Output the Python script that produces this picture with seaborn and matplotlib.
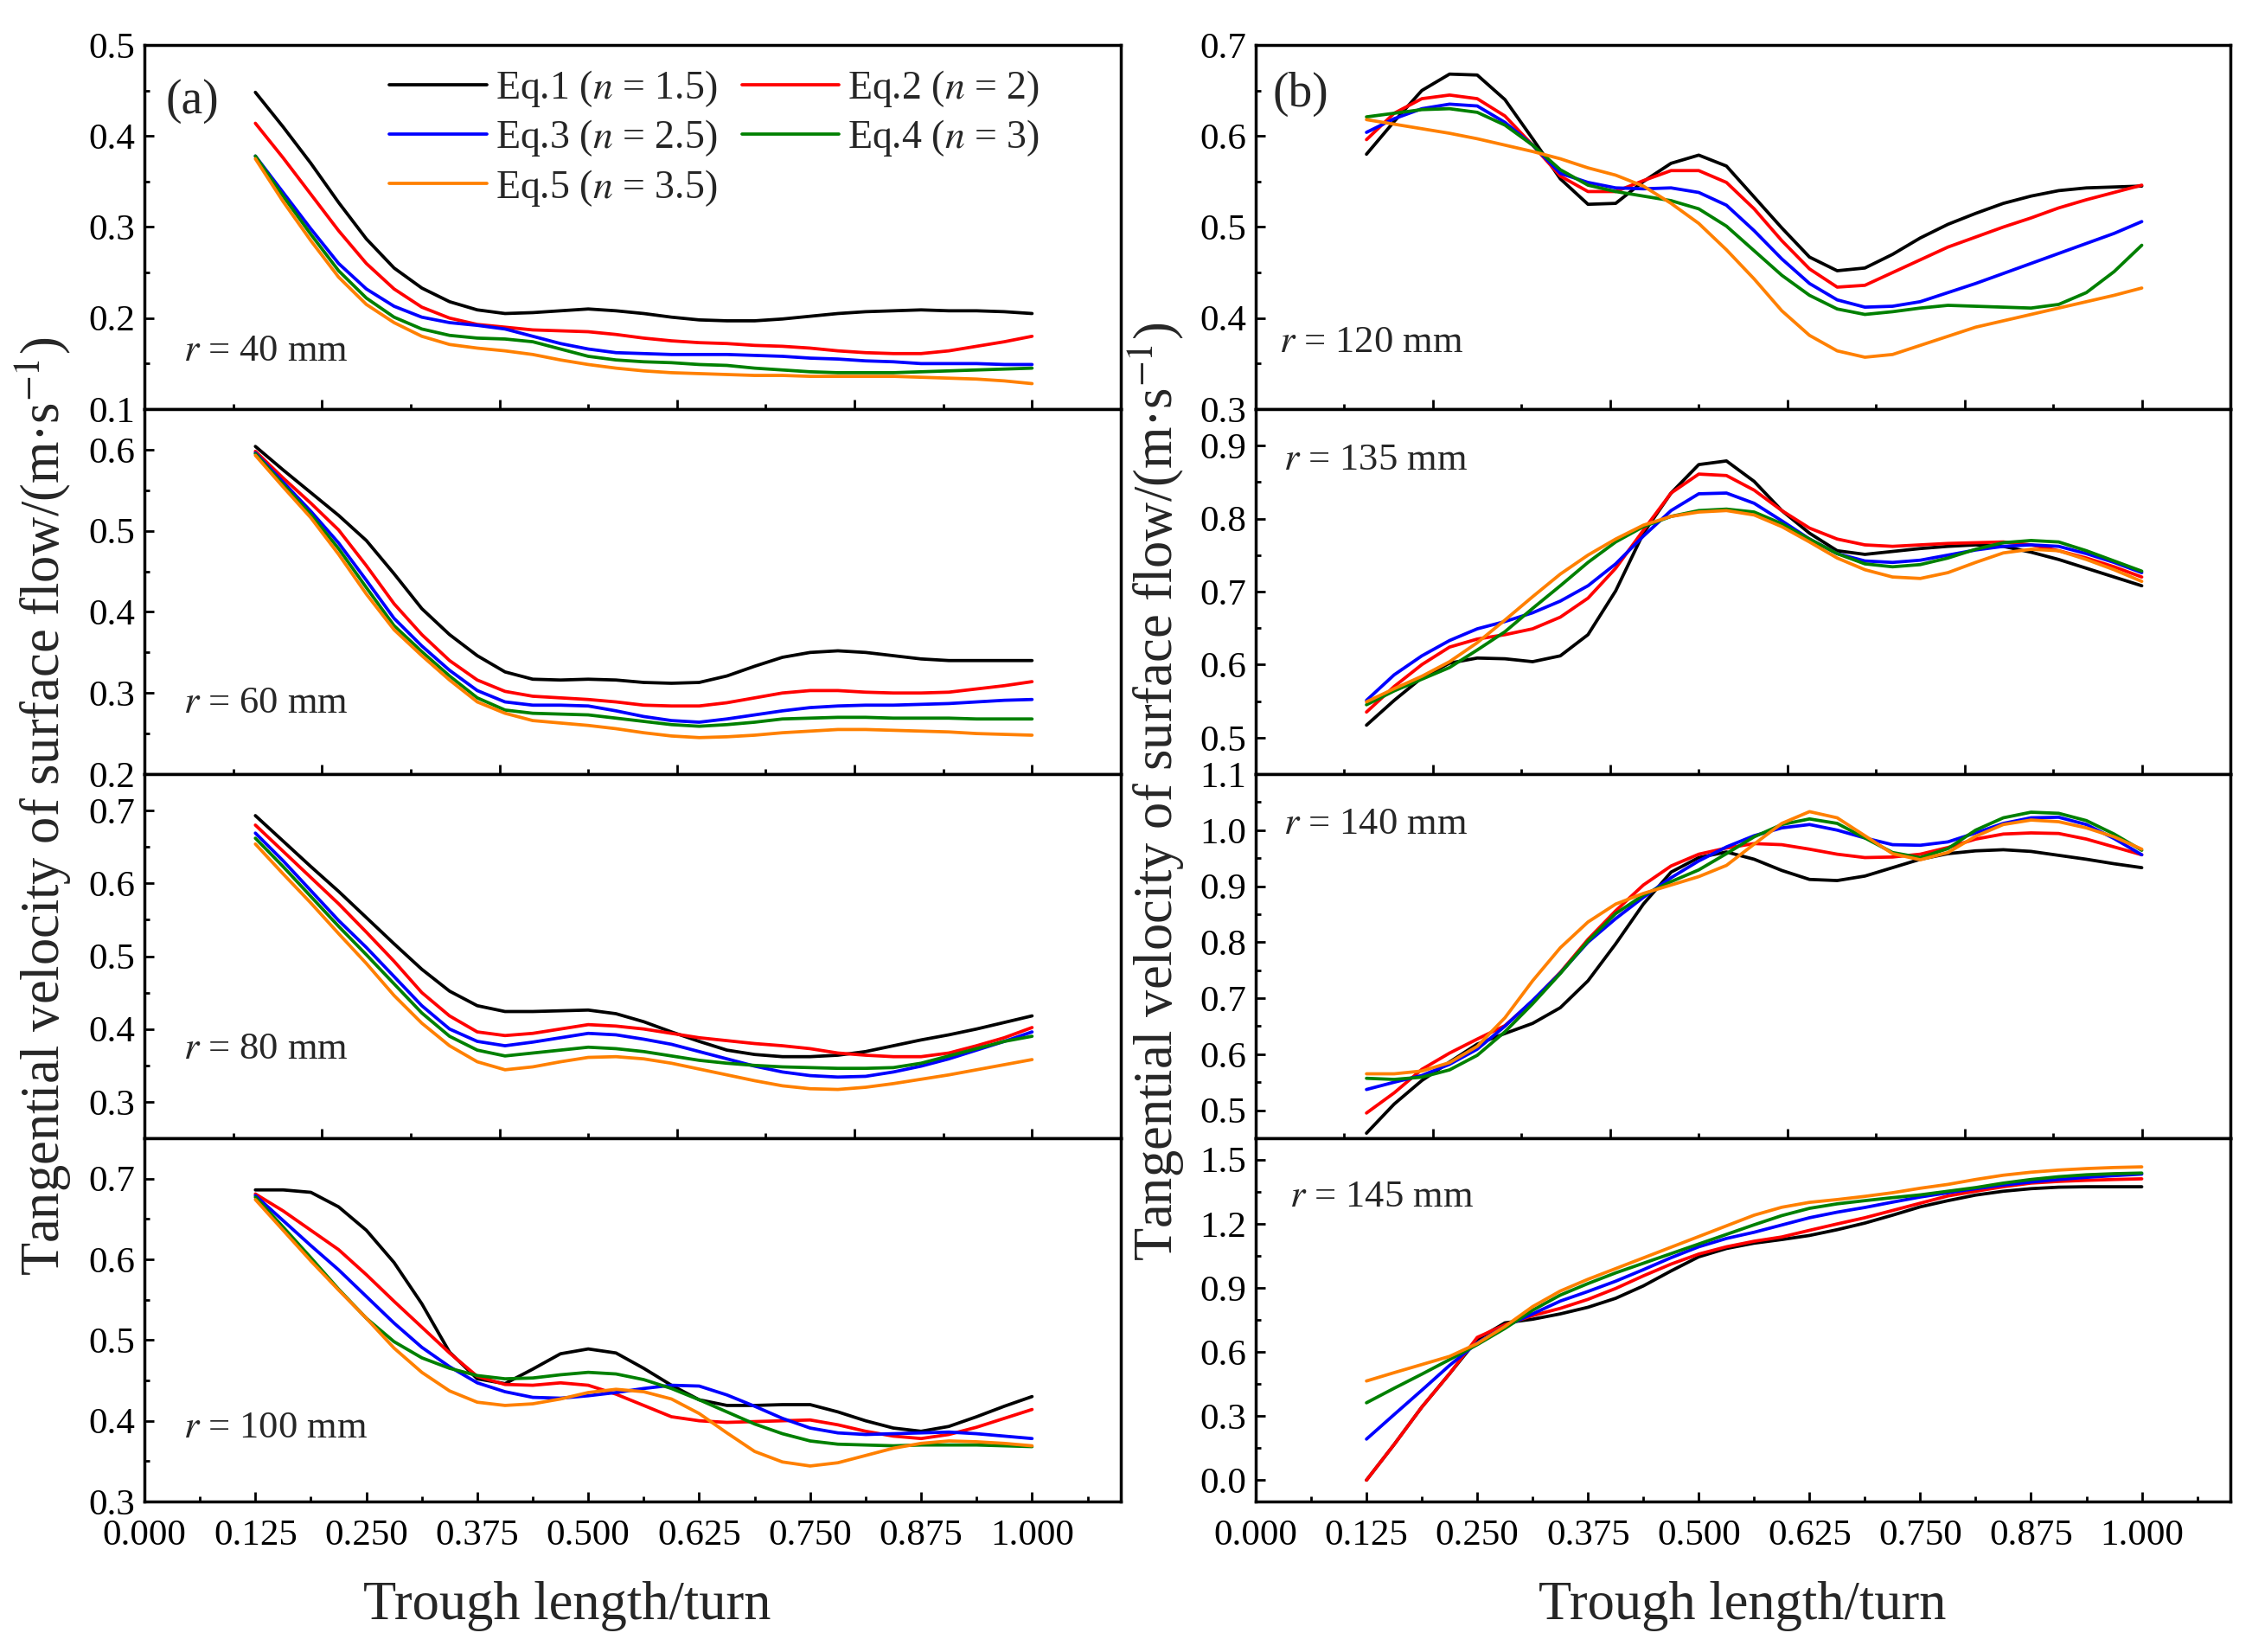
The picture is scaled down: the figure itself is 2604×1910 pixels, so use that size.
import matplotlib
matplotlib.use("Agg")
import matplotlib.pyplot as plt
import seaborn as sns
import pandas as pd
from matplotlib.lines import Line2D
from matplotlib.ticker import MultipleLocator, FormatStrFormatter

# ---------------- data ----------------
x_turn = [0.125, 0.15625, 0.1875, 0.21875, 0.25, 0.28125, 0.3125, 0.34375, 0.375, 0.40625,
          0.4375, 0.46875, 0.5, 0.53125, 0.5625, 0.59375, 0.625, 0.65625, 0.6875, 0.71875,
          0.75, 0.78125, 0.8125, 0.84375, 0.875, 0.90625, 0.9375, 0.96875, 1.0]

series_names = ["Eq.1", "Eq.2", "Eq.3", "Eq.4", "Eq.5"]
legend_labels = [r"Eq.1 ($n$ = 1.5)", r"Eq.2 ($n$ = 2)", r"Eq.3 ($n$ = 2.5)",
                 r"Eq.4 ($n$ = 3)", r"Eq.5 ($n$ = 3.5)"]
series_colors = ["#000000", "#FF0000", "#0000FF", "#008000", "#FF8000"]

# r = 40 mm
r40_eq1 = [0.448, 0.410, 0.370, 0.327, 0.287, 0.255, 0.233, 0.218, 0.209, 0.205, 0.206, 0.208, 0.210, 0.208, 0.205, 0.201, 0.198, 0.197, 0.197, 0.199, 0.202, 0.205, 0.207, 0.208, 0.209, 0.208, 0.208, 0.207, 0.205]
r40_eq2 = [0.414, 0.376, 0.336, 0.296, 0.260, 0.232, 0.212, 0.200, 0.193, 0.190, 0.187, 0.186, 0.185, 0.182, 0.178, 0.175, 0.173, 0.172, 0.170, 0.169, 0.167, 0.164, 0.162, 0.161, 0.161, 0.164, 0.169, 0.174, 0.180]
r40_eq3 = [0.378, 0.338, 0.298, 0.260, 0.232, 0.213, 0.201, 0.195, 0.192, 0.188, 0.180, 0.172, 0.166, 0.162, 0.161, 0.160, 0.160, 0.160, 0.159, 0.158, 0.156, 0.155, 0.153, 0.152, 0.150, 0.150, 0.150, 0.149, 0.149]
r40_eq4 = [0.378, 0.334, 0.292, 0.252, 0.222, 0.201, 0.188, 0.181, 0.178, 0.177, 0.174, 0.166, 0.158, 0.154, 0.152, 0.151, 0.149, 0.148, 0.145, 0.143, 0.141, 0.140, 0.140, 0.140, 0.141, 0.142, 0.143, 0.144, 0.145]
r40_eq5 = [0.375, 0.328, 0.285, 0.245, 0.215, 0.195, 0.180, 0.171, 0.167, 0.164, 0.160, 0.154, 0.149, 0.145, 0.142, 0.140, 0.139, 0.138, 0.137, 0.137, 0.136, 0.136, 0.136, 0.136, 0.135, 0.134, 0.133, 0.131, 0.128]

# r = 60 mm
r60_eq1 = [0.604, 0.575, 0.547, 0.519, 0.488, 0.447, 0.404, 0.372, 0.346, 0.326, 0.317, 0.316, 0.317, 0.316, 0.313, 0.312, 0.313, 0.321, 0.333, 0.344, 0.350, 0.352, 0.350, 0.346, 0.342, 0.340, 0.340, 0.340, 0.340]
r60_eq2 = [0.598, 0.565, 0.534, 0.501, 0.457, 0.410, 0.372, 0.340, 0.316, 0.302, 0.296, 0.294, 0.292, 0.289, 0.285, 0.284, 0.284, 0.288, 0.294, 0.300, 0.303, 0.303, 0.301, 0.300, 0.300, 0.301, 0.305, 0.309, 0.314]
r60_eq3 = [0.596, 0.560, 0.524, 0.485, 0.439, 0.392, 0.358, 0.328, 0.303, 0.289, 0.285, 0.285, 0.284, 0.278, 0.271, 0.266, 0.264, 0.268, 0.273, 0.278, 0.282, 0.284, 0.285, 0.285, 0.286, 0.287, 0.289, 0.291, 0.292]
r60_eq4 = [0.595, 0.557, 0.520, 0.478, 0.430, 0.383, 0.351, 0.321, 0.294, 0.279, 0.275, 0.274, 0.273, 0.269, 0.265, 0.261, 0.259, 0.261, 0.264, 0.268, 0.269, 0.270, 0.270, 0.269, 0.269, 0.269, 0.268, 0.268, 0.268]
r60_eq5 = [0.593, 0.554, 0.516, 0.471, 0.422, 0.378, 0.346, 0.316, 0.289, 0.275, 0.266, 0.263, 0.260, 0.256, 0.251, 0.247, 0.245, 0.246, 0.248, 0.251, 0.253, 0.255, 0.255, 0.254, 0.253, 0.252, 0.250, 0.249, 0.248]

# r = 80 mm
r80_eq1 = [0.693, 0.658, 0.623, 0.589, 0.553, 0.517, 0.482, 0.452, 0.432, 0.424, 0.424, 0.425, 0.426, 0.421, 0.410, 0.396, 0.383, 0.371, 0.365, 0.362, 0.362, 0.364, 0.369, 0.377, 0.385, 0.392, 0.400, 0.409, 0.418]
r80_eq2 = [0.680, 0.644, 0.608, 0.572, 0.533, 0.493, 0.450, 0.418, 0.396, 0.391, 0.394, 0.400, 0.406, 0.404, 0.400, 0.394, 0.388, 0.384, 0.380, 0.377, 0.373, 0.367, 0.364, 0.362, 0.362, 0.367, 0.377, 0.388, 0.402]
r80_eq3 = [0.669, 0.631, 0.590, 0.549, 0.512, 0.472, 0.432, 0.400, 0.383, 0.377, 0.382, 0.388, 0.394, 0.392, 0.386, 0.379, 0.369, 0.359, 0.349, 0.341, 0.336, 0.334, 0.335, 0.341, 0.349, 0.359, 0.371, 0.383, 0.396]
r80_eq4 = [0.662, 0.623, 0.582, 0.541, 0.502, 0.462, 0.422, 0.390, 0.371, 0.363, 0.367, 0.371, 0.375, 0.373, 0.369, 0.363, 0.357, 0.353, 0.350, 0.348, 0.347, 0.346, 0.346, 0.347, 0.353, 0.363, 0.373, 0.383, 0.390]
r80_eq5 = [0.654, 0.613, 0.573, 0.531, 0.490, 0.446, 0.408, 0.377, 0.355, 0.344, 0.348, 0.355, 0.361, 0.362, 0.359, 0.353, 0.345, 0.337, 0.329, 0.322, 0.318, 0.317, 0.320, 0.325, 0.331, 0.337, 0.344, 0.351, 0.358]

# r = 100 mm
r100_eq1 = [0.686, 0.686, 0.683, 0.665, 0.636, 0.596, 0.545, 0.485, 0.452, 0.446, 0.464, 0.483, 0.489, 0.484, 0.465, 0.444, 0.426, 0.419, 0.419, 0.420, 0.420, 0.411, 0.400, 0.391, 0.387, 0.393, 0.405, 0.418, 0.430]
r100_eq2 = [0.681, 0.660, 0.636, 0.612, 0.581, 0.548, 0.516, 0.484, 0.455, 0.445, 0.444, 0.447, 0.444, 0.433, 0.419, 0.405, 0.400, 0.398, 0.399, 0.400, 0.401, 0.395, 0.387, 0.381, 0.378, 0.383, 0.392, 0.403, 0.414]
r100_eq3 = [0.679, 0.648, 0.617, 0.587, 0.554, 0.521, 0.491, 0.467, 0.447, 0.436, 0.429, 0.428, 0.431, 0.435, 0.440, 0.444, 0.443, 0.432, 0.418, 0.403, 0.391, 0.385, 0.383, 0.384, 0.385, 0.386, 0.384, 0.381, 0.378]
r100_eq4 = [0.677, 0.640, 0.602, 0.563, 0.527, 0.498, 0.478, 0.465, 0.456, 0.452, 0.453, 0.457, 0.460, 0.458, 0.451, 0.440, 0.426, 0.411, 0.396, 0.384, 0.375, 0.371, 0.370, 0.369, 0.370, 0.370, 0.370, 0.369, 0.368]
r100_eq5 = [0.674, 0.636, 0.598, 0.562, 0.527, 0.490, 0.460, 0.437, 0.423, 0.419, 0.421, 0.427, 0.435, 0.439, 0.436, 0.427, 0.409, 0.385, 0.362, 0.349, 0.344, 0.348, 0.357, 0.366, 0.372, 0.375, 0.374, 0.372, 0.369]

# r = 120 mm
r120_eq1 = [0.580, 0.616, 0.650, 0.668, 0.667, 0.640, 0.597, 0.553, 0.525, 0.526, 0.550, 0.570, 0.579, 0.567, 0.533, 0.499, 0.467, 0.452, 0.455, 0.470, 0.488, 0.503, 0.515, 0.526, 0.534, 0.540, 0.543, 0.544, 0.545]
r120_eq2 = [0.596, 0.625, 0.641, 0.645, 0.641, 0.622, 0.590, 0.556, 0.539, 0.539, 0.551, 0.562, 0.562, 0.549, 0.520, 0.485, 0.454, 0.434, 0.436, 0.450, 0.464, 0.478, 0.489, 0.500, 0.510, 0.521, 0.530, 0.538, 0.546]
r120_eq3 = [0.604, 0.619, 0.630, 0.635, 0.633, 0.615, 0.590, 0.559, 0.549, 0.543, 0.542, 0.543, 0.538, 0.524, 0.496, 0.465, 0.438, 0.420, 0.412, 0.413, 0.418, 0.428, 0.438, 0.449, 0.460, 0.471, 0.482, 0.493, 0.506]
r120_eq4 = [0.621, 0.625, 0.629, 0.630, 0.626, 0.612, 0.590, 0.563, 0.546, 0.539, 0.534, 0.529, 0.520, 0.501, 0.474, 0.447, 0.425, 0.410, 0.404, 0.407, 0.411, 0.414, 0.413, 0.412, 0.411, 0.415, 0.428, 0.451, 0.480]
r120_eq5 = [0.618, 0.613, 0.608, 0.603, 0.597, 0.590, 0.583, 0.575, 0.565, 0.557, 0.545, 0.526, 0.504, 0.475, 0.443, 0.408, 0.381, 0.364, 0.357, 0.360, 0.370, 0.380, 0.390, 0.397, 0.404, 0.411, 0.418, 0.425, 0.433]

# r = 135 mm
r135_eq1 = [0.517, 0.551, 0.582, 0.602, 0.609, 0.608, 0.604, 0.612, 0.641, 0.701, 0.780, 0.835, 0.874, 0.879, 0.851, 0.811, 0.780, 0.756, 0.751, 0.755, 0.759, 0.762, 0.764, 0.762, 0.754, 0.744, 0.732, 0.720, 0.708]
r135_eq2 = [0.535, 0.570, 0.600, 0.624, 0.635, 0.641, 0.649, 0.665, 0.691, 0.732, 0.784, 0.835, 0.861, 0.859, 0.839, 0.811, 0.787, 0.772, 0.764, 0.762, 0.764, 0.766, 0.767, 0.768, 0.764, 0.756, 0.746, 0.734, 0.720]
r135_eq3 = [0.551, 0.586, 0.612, 0.633, 0.649, 0.659, 0.671, 0.687, 0.708, 0.738, 0.776, 0.811, 0.834, 0.835, 0.821, 0.797, 0.772, 0.752, 0.742, 0.740, 0.743, 0.750, 0.757, 0.762, 0.764, 0.762, 0.752, 0.740, 0.726]
r135_eq4 = [0.545, 0.564, 0.580, 0.596, 0.620, 0.645, 0.677, 0.708, 0.740, 0.768, 0.789, 0.803, 0.811, 0.813, 0.809, 0.793, 0.772, 0.752, 0.738, 0.734, 0.737, 0.746, 0.758, 0.767, 0.770, 0.768, 0.756, 0.742, 0.728]
r135_eq5 = [0.549, 0.567, 0.584, 0.604, 0.630, 0.661, 0.693, 0.724, 0.750, 0.772, 0.791, 0.803, 0.809, 0.811, 0.805, 0.789, 0.768, 0.746, 0.730, 0.720, 0.718, 0.726, 0.740, 0.753, 0.758, 0.756, 0.744, 0.730, 0.714]

# r = 140 mm
r140_eq1 = [0.459, 0.511, 0.553, 0.586, 0.618, 0.637, 0.655, 0.683, 0.731, 0.797, 0.868, 0.925, 0.951, 0.961, 0.948, 0.928, 0.912, 0.910, 0.918, 0.933, 0.948, 0.958, 0.963, 0.965, 0.962, 0.955, 0.948, 0.940, 0.933]
r140_eq2 = [0.495, 0.531, 0.573, 0.602, 0.627, 0.651, 0.695, 0.746, 0.805, 0.856, 0.902, 0.936, 0.957, 0.968, 0.976, 0.974, 0.966, 0.957, 0.951, 0.952, 0.957, 0.969, 0.984, 0.993, 0.995, 0.994, 0.984, 0.970, 0.956]
r140_eq3 = [0.537, 0.550, 0.562, 0.582, 0.609, 0.650, 0.696, 0.745, 0.800, 0.842, 0.880, 0.915, 0.945, 0.970, 0.990, 1.004, 1.010, 1.000, 0.986, 0.974, 0.973, 0.979, 0.995, 1.012, 1.022, 1.023, 1.010, 0.985, 0.956]
r140_eq4 = [0.557, 0.555, 0.559, 0.572, 0.598, 0.640, 0.690, 0.744, 0.802, 0.851, 0.884, 0.908, 0.929, 0.958, 0.988, 1.010, 1.020, 1.012, 0.986, 0.960, 0.951, 0.967, 1.000, 1.022, 1.032, 1.030, 1.017, 0.993, 0.964]
r140_eq5 = [0.565, 0.565, 0.570, 0.585, 0.614, 0.665, 0.731, 0.790, 0.836, 0.868, 0.887, 0.902, 0.917, 0.937, 0.975, 1.012, 1.033, 1.022, 0.990, 0.958, 0.947, 0.960, 0.989, 1.010, 1.018, 1.015, 1.004, 0.988, 0.966]

# r = 145 mm
r145_eq1 = [0.000, 0.167, 0.342, 0.498, 0.659, 0.736, 0.753, 0.778, 0.809, 0.851, 0.909, 0.979, 1.045, 1.084, 1.109, 1.126, 1.145, 1.172, 1.203, 1.240, 1.279, 1.308, 1.334, 1.352, 1.364, 1.371, 1.373, 1.373, 1.373]
r145_eq2 = [0.000, 0.167, 0.342, 0.498, 0.668, 0.727, 0.770, 0.804, 0.846, 0.897, 0.956, 1.011, 1.058, 1.092, 1.118, 1.138, 1.169, 1.199, 1.228, 1.262, 1.296, 1.330, 1.352, 1.373, 1.390, 1.398, 1.403, 1.407, 1.410]
r145_eq3 = [0.192, 0.307, 0.421, 0.537, 0.642, 0.719, 0.778, 0.838, 0.883, 0.931, 0.985, 1.041, 1.092, 1.131, 1.160, 1.194, 1.228, 1.254, 1.276, 1.301, 1.325, 1.345, 1.364, 1.381, 1.395, 1.407, 1.417, 1.425, 1.432]
r145_eq4 = [0.362, 0.430, 0.496, 0.564, 0.634, 0.710, 0.795, 0.866, 0.920, 0.970, 1.015, 1.060, 1.105, 1.150, 1.195, 1.238, 1.272, 1.293, 1.308, 1.322, 1.335, 1.352, 1.369, 1.390, 1.407, 1.420, 1.429, 1.434, 1.437]
r145_eq5 = [0.464, 0.503, 0.541, 0.579, 0.639, 0.719, 0.812, 0.885, 0.940, 0.990, 1.040, 1.090, 1.140, 1.190, 1.240, 1.277, 1.300, 1.313, 1.328, 1.345, 1.366, 1.384, 1.407, 1.427, 1.441, 1.451, 1.458, 1.463, 1.466]

panel_labels = ["r = 40 mm", "r = 60 mm", "r = 80 mm", "r = 100 mm",
                "r = 120 mm", "r = 135 mm", "r = 140 mm", "r = 145 mm"]
x_tick_labels = ["0.000", "0.125", "0.250", "0.375", "0.500", "0.625", "0.750", "0.875", "1.000"]

# ---------------- style ----------------
sns.set_style("ticks")
plt.rcParams["font.family"] = ["Liberation Serif", "DejaVu Serif"]
plt.rcParams["mathtext.fontset"] = "stix"
plt.rcParams["axes.linewidth"] = 2.5

W, H = 2604, 1910
fig = plt.figure(figsize=(W / 100, H / 100), dpi=100)

rows_y = [52, 473, 895, 1316, 1736]
cols_x = [(167, 1296), (1452, 2579)]


def add_ax(col, row):
    x0, x1 = cols_x[col]
    y0, y1 = rows_y[row], rows_y[row + 1]
    return fig.add_axes([x0 / W, 1 - y1 / H, (x1 - x0) / W, (y1 - y0) / H])


panels = [
    # col, row, series, ylim, ymajor, label position (axes fraction)
    (0, 0, [r40_eq1, r40_eq2, r40_eq3, r40_eq4, r40_eq5], (0.1, 0.5), 0.1, (0.040, 0.160)),
    (0, 1, [r60_eq1, r60_eq2, r60_eq3, r60_eq4, r60_eq5], (0.2, 0.65), 0.1, (0.040, 0.195)),
    (0, 2, [r80_eq1, r80_eq2, r80_eq3, r80_eq4, r80_eq5], (0.25, 0.75), 0.1, (0.040, 0.245)),
    (0, 3, [r100_eq1, r100_eq2, r100_eq3, r100_eq4, r100_eq5], (0.3, 0.75), 0.1, (0.040, 0.202)),
    (1, 0, [r120_eq1, r120_eq2, r120_eq3, r120_eq4, r120_eq5], (0.3, 0.7), 0.1, (0.024, 0.183)),
    (1, 1, [r135_eq1, r135_eq2, r135_eq3, r135_eq4, r135_eq5], (0.45, 0.95), 0.1, (0.028, 0.860)),
    (1, 2, [r140_eq1, r140_eq2, r140_eq3, r140_eq4, r140_eq5], (0.45, 1.1), 0.1, (0.028, 0.862)),
    (1, 3, [r145_eq1, r145_eq2, r145_eq3, r145_eq4, r145_eq5], (-0.1, 1.6), 0.3, (0.035, 0.838)),
]

palette = dict(zip(series_names, series_colors))
axes = []
for i, (col, row, ser, ylim, ymaj, lab_xy) in enumerate(panels):
    ax = add_ax(col, row)
    axes.append(ax)
    frames = []
    for name, vals in zip(series_names, ser):
        frames.append(pd.DataFrame({"x": x_turn, "v": vals, "series": name}))
    df = pd.concat(frames, ignore_index=True)
    sns.lineplot(data=df, x="x", y="v", hue="series", hue_order=series_names,
                 palette=palette, estimator=None, sort=False, linewidth=2.7,
                 legend=False, ax=ax)
    for ln in ax.lines:
        ln.set_solid_joinstyle("round")
        ln.set_solid_capstyle("round")
    ax.set_xlim(0, 1.1)
    ax.set_ylim(*ylim)
    ax.set_xlabel("")
    ax.set_ylabel("")
    ax.yaxis.set_major_locator(MultipleLocator(ymaj))
    ax.yaxis.set_minor_locator(MultipleLocator(ymaj / 2))
    ax.yaxis.set_major_formatter(FormatStrFormatter("%.1f"))
    if row == 3:
        ax.set_xticks([0.125 * k for k in range(9)])
        ax.set_xticklabels(x_tick_labels)
        ax.xaxis.set_minor_locator(MultipleLocator(0.0625))
        ax.tick_params(axis="x", labelbottom=True, pad=15)
    else:
        ax.xaxis.set_major_locator(MultipleLocator(0.2))
        ax.xaxis.set_minor_locator(MultipleLocator(0.1))
        ax.tick_params(axis="x", labelbottom=False)
    ax.tick_params(which="both", direction="in", top=False, right=False, width=2,
                   labelsize=31, colors="black")
    ax.tick_params(which="major", length=8)
    ax.tick_params(which="minor", length=4.5)
    ax.tick_params(axis="y", pad=8)
    for sp in ax.spines.values():
        sp.set_linewidth(2.5)
        sp.set_color("black")
    lab = panel_labels[i]
    ax.text(lab_xy[0], lab_xy[1], r"$r$" + lab[1:], transform=ax.transAxes,
            fontsize=32, ha="left", va="center")

# panel tags
axes[0].text(0.022, 0.845, "(a)", transform=axes[0].transAxes, fontsize=40,
             ha="left", va="center")
axes[4].text(0.017, 0.865, "(b)", transform=axes[4].transAxes, fontsize=40,
             ha="left", va="center")

# legend (row-major order like the original)
handles = [Line2D([0], [0], color=c, lw=2.7) for c in series_colors]
order = [0, 2, 4, 1, 3]
axes[0].legend([handles[k] for k in order], [legend_labels[k] for k in order],
               ncol=2, loc="upper left", bbox_to_anchor=(0.251, 0.935),
               frameon=False, fontsize=33, handlelength=2.45, handletextpad=0.22,
               columnspacing=0.62, labelspacing=0.22, borderpad=0, borderaxespad=0)

# axis titles
ylab = "Tangential velocity of surface flow/(m\u00b7s$^{-1}$)"
fig.text(50 / W, 1 - 932 / H, ylab, rotation=90, ha="center", va="center", fontsize=45)
fig.text(1337 / W, 1 - 915 / H, ylab, rotation=90, ha="center", va="center", fontsize=45)
fig.text(656 / W, 1 - 1872 / H, "Trough length/turn", ha="center", va="baseline", fontsize=45)
fig.text(2015 / W, 1 - 1872 / H, "Trough length/turn", ha="center", va="baseline", fontsize=45)

fig.savefig("out.png", dpi=100, facecolor="white")
